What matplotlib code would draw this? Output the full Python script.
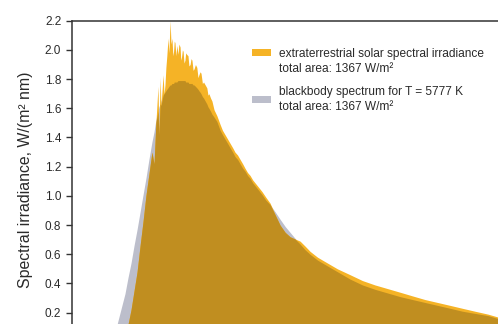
import numpy as np
import matplotlib
matplotlib.use("Agg")
import matplotlib.pyplot as plt
import matplotlib.patches as mpatches

plt.rcParams['font.family'] = ['Liberation Sans', 'DejaVu Sans']

# Wavelength grid (nm)
wavelength = [143, 178, 195, 216, 229, 242, 255, 268, 281, 294, 307, 319, 332, 345,
              354, 362, 371, 375, 380, 384, 393, 397, 401, 405, 409, 414, 418, 423,
              427, 431, 435, 438, 441, 444, 448, 452, 457, 461, 466, 469, 472, 476,
              479, 483, 487, 490, 494, 500, 504, 509, 513, 517, 522, 526, 532, 538,
              543, 547, 552, 556, 562, 567, 574, 581, 586, 590, 597, 603, 612, 624,
              631, 638, 648, 659, 670, 681, 692, 702, 713, 724, 735, 745, 756, 767,
              778, 788, 803, 818, 835, 853, 875, 896, 918, 939, 960, 982, 1004, 1025,
              1057, 1089, 1143, 1197, 1250, 1304, 1358, 1412, 1465, 1519, 1573, 1627,
              1680, 1734, 1790, 1833]

# Extraterrestrial solar spectral irradiance, W/(m^2 nm)
solar = [0.00, 0.00, 0.01, 0.03, 0.07, 0.12, 0.22, 0.35, 0.48, 0.66, 0.83, 1.00, 1.15, 1.30,
         1.22, 1.50, 1.75, 1.42, 1.81, 1.62, 1.83, 1.70, 1.76, 1.88, 1.96, 2.08, 1.98, 2.20,
         2.04, 2.08, 1.96, 1.99, 2.06, 2.05, 1.96, 2.03, 1.97, 2.04, 2.02, 1.93, 1.95, 2.00,
         1.99, 1.91, 1.93, 1.98, 1.97, 1.96, 1.89, 1.90, 1.94, 1.93, 1.86, 1.87, 1.90, 1.88,
         1.81, 1.83, 1.85, 1.84, 1.77, 1.78, 1.76, 1.74, 1.69, 1.70, 1.67, 1.65, 1.59, 1.55,
         1.52, 1.49, 1.45, 1.42, 1.39, 1.36, 1.33, 1.30, 1.28, 1.25, 1.22, 1.19, 1.16, 1.14,
         1.11, 1.09, 1.06, 1.03, 0.99, 0.95, 0.87, 0.80, 0.75, 0.72, 0.705, 0.69, 0.655, 0.62,
         0.58, 0.55, 0.50, 0.46, 0.42, 0.39, 0.365, 0.34, 0.315, 0.29, 0.27, 0.25,
         0.23, 0.21, 0.19, 0.17]

# Blackbody spectrum for T = 5777 K, W/(m^2 nm)
blackbody = [0.00, 0.05, 0.12, 0.25, 0.33, 0.44, 0.54, 0.66, 0.77, 0.89, 1.01, 1.12, 1.25, 1.37,
             1.44, 1.52, 1.58, 1.61, 1.63, 1.65, 1.69, 1.70, 1.71, 1.72, 1.73, 1.74, 1.75, 1.76,
             1.76, 1.77, 1.77, 1.77, 1.78, 1.78, 1.78, 1.78, 1.79, 1.79, 1.79, 1.79, 1.79, 1.79,
             1.79, 1.79, 1.79, 1.78, 1.78, 1.78, 1.77, 1.77, 1.77, 1.77, 1.76, 1.76, 1.75, 1.74,
             1.73, 1.72, 1.71, 1.70, 1.68, 1.67, 1.65, 1.63, 1.61, 1.60, 1.58, 1.56, 1.54, 1.51,
             1.48, 1.45, 1.42, 1.39, 1.36, 1.33, 1.30, 1.27, 1.25, 1.22, 1.19, 1.17, 1.14, 1.12,
             1.09, 1.07, 1.04, 1.01, 0.97, 0.94, 0.89, 0.84, 0.79, 0.75, 0.71, 0.67, 0.63, 0.60,
             0.56, 0.53, 0.48, 0.43, 0.39, 0.36, 0.335, 0.31, 0.29, 0.27, 0.25, 0.23,
             0.21, 0.195, 0.18, 0.16]

yticks = [0.2, 0.4, 0.6, 0.8, 1.0, 1.2, 1.4, 1.6, 1.8, 2.0, 2.2]
ytick_labels = ["0.2", "0.4", "0.6", "0.8", "1.0", "1.2", "1.4", "1.6", "1.8", "2.0", "2.2"]

ORANGE = "#F5B326"
GRAY = "#BCBECB"
DARK = "#C08E20"
TEXT = "#2a2a2a"

wl = np.array(wavelength, dtype=float)
s = np.array(solar)
b = np.array(blackbody)

fig = plt.figure(figsize=(4.98, 3.24), dpi=100)
ax = fig.add_axes([0.144, -0.0552, 0.856, 0.9913])

ax.fill_between(wl, 0, b, color=GRAY, lw=0, zorder=1)
ax.fill_between(wl, 0, s, color=ORANGE, lw=0, zorder=2)
ax.fill_between(wl, 0, np.minimum(s, b), color=DARK, lw=0, zorder=3)

ax.set_xlim(0, 1833)
ax.set_ylim(0, 2.2)
ax.set_yticks(yticks)
ax.set_yticklabels(ytick_labels)
ax.set_xticks([])

for side in ["right", "bottom"]:
    ax.spines[side].set_visible(False)
for side in ["left", "top"]:
    ax.spines[side].set_linewidth(1.1)
    ax.spines[side].set_color("#333333")
    ax.spines[side].set_zorder(5)

ax.tick_params(axis="y", direction="out", length=4.5, width=1.0, color="#333333",
               labelsize=8.5, labelcolor=TEXT, pad=3)
ax.set_ylabel("Spectral irradiance, W/(m² nm)", fontsize=11.4, color=TEXT)
ax.yaxis.set_label_coords(-0.091, 0.504)

# Legend drawn in figure pixel positions
W, H = 498.0, 324.0
def fx(px):
    return px / W
def fy(py):
    return 1 - py / H

fig.patches.append(mpatches.Rectangle((fx(251.7), fy(56)), 19 / W, 7 / H,
                                      transform=fig.transFigure, color=ORANGE, lw=0))
fig.patches.append(mpatches.Rectangle((fx(251.7), fy(103.3)), 19 / W, 7 / H,
                                      transform=fig.transFigure, color=GRAY, lw=0))
legend_fs = 8.6
fig.text(fx(279.3), fy(54), "extraterrestrial solar spectral irradiance", fontsize=legend_fs,
         color=TEXT, va="center", ha="left")
fig.text(fx(279.3), fy(69.3), "total area: 1367 W/m²", fontsize=legend_fs,
         color=TEXT, va="center", ha="left")
fig.text(fx(279.3), fy(91.7), "blackbody spectrum for T = 5777 K", fontsize=legend_fs,
         color=TEXT, va="center", ha="left")
fig.text(fx(279.3), fy(107.3), "total area: 1367 W/m²", fontsize=legend_fs,
         color=TEXT, va="center", ha="left")

fig.savefig("out.png", dpi=100)
